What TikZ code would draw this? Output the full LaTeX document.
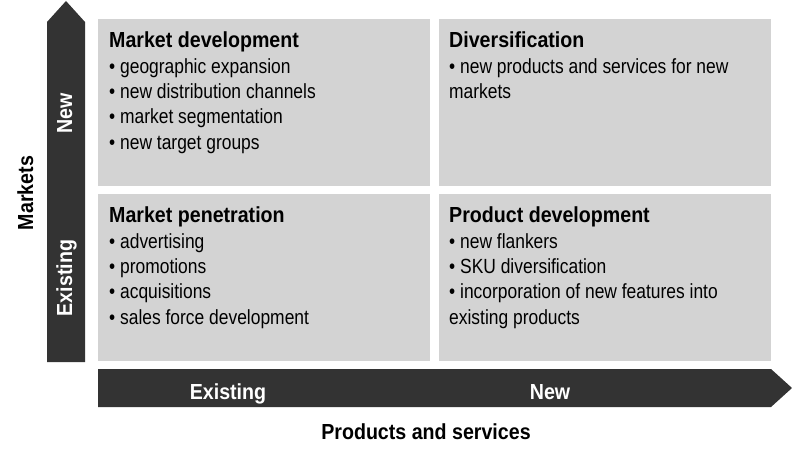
\documentclass[tikz,border=0pt]{standalone}
\usepackage{fontspec}
\setmainfont{Liberation Sans}[FakeStretch=0.9]
\newfontfamily\itemfont{Liberation Sans}[FakeStretch=0.85]
\definecolor{cellgray}{HTML}{D3D3D3}
\definecolor{axisdark}{HTML}{333333}

\begin{document}
\begin{tikzpicture}[x=1pt,y=1pt,
    cell/.style={fill=cellgray,draw=none,anchor=north west,minimum width=332pt,minimum height=167pt,inner sep=0pt},
    head/.style={anchor=base west,inner sep=0pt,font=\fontsize{21.8}{24}\selectfont\bfseries},
    item/.style={anchor=base west,inner sep=0pt,font=\itemfont\fontsize{20.5}{24}\selectfont},
    axislabel/.style={anchor=base,text=white,inner sep=0pt,font=\fontsize{21.8}{24}\selectfont\bfseries},
    axistitle/.style={anchor=base,inner sep=0pt,font=\fontsize{21.8}{24}\selectfont\bfseries}]
  \useasboundingbox (0,0) rectangle (792,453);
  % axis arrows
  \fill[axisdark] (47,91) -- (47,431) -- (66,452) -- (85,431) -- (85,91) -- cycle;
  \fill[axisdark] (98,46) -- (771,46) -- (792,65) -- (771,84) -- (98,84) -- cycle;
  % the four cells
  \node[cell] (md) at (98,434) {};
  \node[cell] (dv) at (439,434) {};
  \node[cell] (mp) at (98,259) {};
  \node[cell] (pd) at (439,259) {};
  % cell texts
  \node[head] (md-head) at ([shift={(11,-29)}]md.north west) {Market development};
  \foreach \txt [count=\i] in {geographic expansion, new distribution channels,
      market segmentation, new target groups}
    \node[item] (md-\i) at ([shift={(11,{-29-25.3*\i})}]md.north west) {\textbullet\ \txt};
  \node[head] (dv-head) at ([shift={(10,-29)}]dv.north west) {Diversification};
  \node[item] (dv-1) at ([shift={(10,-54.3)}]dv.north west) {\textbullet\ new products and services for new};
  \node[item] (dv-2) at ([shift={(10,-79.6)}]dv.north west) {markets};
  \node[head] (mp-head) at ([shift={(11,-29)}]mp.north west) {Market penetration};
  \foreach \txt [count=\i] in {advertising, promotions, acquisitions,
      sales force development}
    \node[item] (mp-\i) at ([shift={(11,{-29-25.3*\i})}]mp.north west) {\textbullet\ \txt};
  \node[head] (pd-head) at ([shift={(10,-29)}]pd.north west) {Product development};
  \foreach \txt [count=\i] in {new flankers, SKU diversification,
      incorporation of new features into}
    \node[item] (pd-\i) at ([shift={(10,{-29-25.3*\i})}]pd.north west) {\textbullet\ \txt};
  \node[item] (pd-4) at ([shift={(10,-130.2)}]pd.north west) {existing products};
  % axis labels
  \node[axislabel,rotate=90] (m-new) at (72,340) {New};
  \node[axislabel,rotate=90] (m-ex) at (72,175) {Existing};
  \node[axistitle,rotate=90] (markets) at (33,260) {Markets};
  \node[axislabel] (p-ex) at (228,54) {Existing};
  \node[axislabel] (p-new) at (550,54) {New};
  \node[axistitle] (products) at (426,14) {Products and services};
\end{tikzpicture}
\end{document}
